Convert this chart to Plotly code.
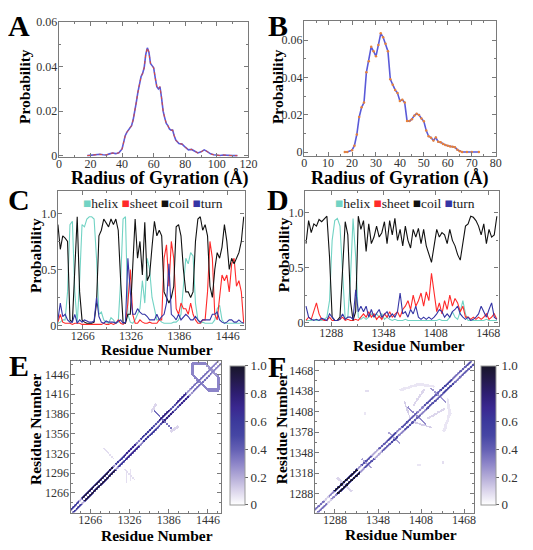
import numpy as np
import plotly.graph_objects as go

# ---------------- A: radius of gyration, protein 1
rg_a_x = [18, 20, 22, 24, 26, 28, 30, 32, 34, 36, 38, 40, 41, 42, 43, 44, 45, 46, 47, 48,
          49, 50, 51, 52, 53, 54, 55, 56, 57, 58, 59, 60, 61, 62, 63, 64, 65, 66, 67, 68,
          69, 70, 71, 72, 73, 74, 76, 78, 80, 82, 84, 86, 88, 90, 92, 94, 96, 98, 100, 102,
          104, 106, 108, 110, 113]
rg_a_p = [0.0, 0.0002, 0.0003, 0.0004, 0.0006, 0.0004, 0.0003, 0.0008, 0.0012, 0.0009,
          0.0013, 0.003, 0.006, 0.009, 0.0105, 0.0115, 0.0125, 0.0135, 0.016, 0.0195,
          0.024, 0.0285, 0.032, 0.0355, 0.037, 0.0395, 0.0455, 0.0485, 0.0465, 0.0415,
          0.0405, 0.0395, 0.035, 0.031, 0.030, 0.031, 0.026, 0.020, 0.017, 0.0145,
          0.0135, 0.012, 0.0115, 0.0115, 0.009, 0.007, 0.0055, 0.0052, 0.0038, 0.0026,
          0.0028, 0.0021, 0.0012, 0.0017, 0.0026, 0.0018, 0.0008, 0.0004, 0.0002, 0.0001,
          0.0003, 0.0001, 0.0, 0.0, 0.0]

# ---------------- B: radius of gyration, protein 2
rg_b_x = [17, 18, 20, 21, 22, 23, 24, 25, 26, 27, 28, 29, 30, 31, 32, 33, 34, 35, 36, 37,
          38, 39, 40, 41, 42, 43, 44, 45, 46, 47, 48, 49, 50, 51, 52, 53, 54, 55, 56, 57,
          58, 59, 60, 61, 62, 63, 64, 65, 66, 68, 70, 73]
rg_b_p = [0.0, 0.0, 0.001, 0.0034, 0.0094, 0.0188, 0.024, 0.0265, 0.0427, 0.0487,
          0.0564, 0.054, 0.0513, 0.0573, 0.0636, 0.0615, 0.058, 0.054, 0.039, 0.036,
          0.0333, 0.0316, 0.0274, 0.028, 0.0265, 0.0166, 0.0166, 0.0176, 0.0195, 0.0205,
          0.0198, 0.018, 0.0165, 0.0115, 0.0085, 0.0077, 0.0062, 0.0078, 0.0055, 0.0052,
          0.0043, 0.0038, 0.0034, 0.003, 0.0029, 0.0026, 0.0012, 0.0005, 0.0, 0.0, 0.0, 0.0]

# ---------------- C: secondary structure, protein 1
ss_c_res = list(range(1235, 1467, 3))
ss_c_helix = [.02, .03, .05, .05, .30, .90, .93, .30, .02, .40, .90, .88, .95, .97, .97, .95,
              .60, .10, .12, .05, .03, .02, .07, .05, .02, .03, .40, .95, .97, .10, .03, .02,
              .05, .10, .15, .40, .20, .60, .50, .25, .15, .05, .05, .03, .02, .02, .02, .02,
              .03, .03, .05, .10, .35, .60, .55, .65, .62, .20, .05, .02, .03, .02, .02, .02,
              .02, .05, .15, .18, .05, .02, .02, .02, .02, .02, .02, .02, .02, .02]
ss_c_sheet = [.03, .10, .03, .02, .02, .02, .01, .02, .02, .02, .01, .01, .01, .01, .01, .01,
              .01, .01, .01, .02, .01, .01, .02, .01, .02, .05, .02, .01, .03, .20, .50, .10,
              .02, .02, .05, .03, .02, .02, .03, .02, .02, .02, .05, .05, .60, .72, .35, .75,
              .60, .15, .10, .20, .15, .15, .10, .20, .10, .05, .02, .02, .05, .05, .30, .75,
              .60, .10, .05, .25, .45, .40, .45, .30, .55, .60, .35, .40, .30, .02]
ss_c_coil = [.90, .68, .80, .78, .75, .05, .03, .50, .97, .30, .05, .03, .02, .02, .02, .03,
             .20, .80, .85, .95, .92, .88, .95, .90, .95, .85, .40, .03, .02, .10, .10, .60,
             .95, .60, .75, .45, .92, .40, .45, .70, .93, .80, .85, .80, .30, .25, .20, .25,
             .35, .88, .90, .80, .50, .30, .30, .25, .30, .75, .95, .97, .85, .90, .80, .35,
             .25, .50, .65, .60, .70, .90, .75, .50, .60, .55, .60, .65, .75, .97]
ss_c_turn = [.05, .20, .08, .10, .05, .03, .03, .10, .02, .05, .03, .05, .04, .03, .03, .04,
             .25, .08, .03, .02, .04, .03, .03, .03, .02, .04, .05, .02, .03, .60, .30, .10,
             .10, .15, .12, .10, .10, .08, .05, .05, .05, .10, .05, .08, .10, .20, .55, .10,
             .08, .05, .10, .05, .08, .10, .08, .05, .05, .08, .05, .03, .05, .05, .05, .05,
             .10, .10, .12, .05, .03, .02, .03, .05, .05, .03, .03, .05, .03, .02]

# ---------------- D: secondary structure, protein 2
ss_d_res = list(range(1259, 1479, 3))
ss_d_helix = [.02, .02, .02, .03, .02, .02, .02, .03, .05, .20, .75, .93, .95, .88, .40, .03,
              .05, .40, .95, .60, .05, .03, .05, .03, .05, .08, .05, .08, .05, .08, .03, .05,
              .03, .02, .03, .02, .02, .02, .03, .02, .02, .02, .02, .02, .02, .02, .02, .02,
              .02, .02, .02, .03, .02, .02, .02, .05, .10, .05, .03, .10, .20, .08, .02, .02,
              .02, .02, .02, .02, .02, .03, .02, .02, .02, .02]
ss_d_sheet = [.02, .05, .03, .10, .18, .08, .03, .02, .02, .05, .02, .02, .02, .03, .05, .02,
              .03, .02, .02, .03, .02, .05, .08, .05, .10, .05, .08, .03, .06, .03, .08, .05,
              .10, .05, .08, .10, .05, .12, .15, .20, .12, .25, .15, .20, .27, .15, .28, .20,
              .45, .25, .10, .18, .08, .20, .12, .25, .15, .22, .18, .10, .15, .05, .05, .03,
              .05, .03, .05, .03, .05, .08, .03, .05, .08, .03]
ss_d_coil = [.72, .93, .82, .90, .88, .94, .92, .95, .97, .60, .05, .02, .02, .05, .45, .92,
             .80, .20, .02, .10, .97, .85, .93, .65, .90, .72, .78, .88, .78, .82, .92, .72,
             .93, .80, .95, .75, .85, .70, .88, .75, .68, .85, .78, .86, .72, .85, .70, .62,
             .55, .70, .85, .78, .82, .80, .72, .85, .75, .70, .62, .57, .75, .88, .90, .97,
             .96, .93, .88, .80, .90, .72, .85, .78, .80, .97]
ss_d_turn = [.15, .05, .03, .02, .03, .02, .04, .03, .02, .08, .05, .02, .02, .03, .08, .03,
             .05, .05, .03, .30, .10, .15, .10, .15, .05, .12, .05, .08, .12, .05, .08, .10,
             .05, .08, .05, .10, .27, .08, .10, .05, .12, .08, .15, .05, .03, .05, .03, .05,
             .03, .05, .08, .12, .10, .05, .08, .05, .10, .12, .15, .08, .05, .03, .05, .02,
             .03, .05, .08, .15, .10, .05, .12, .18, .05, .03]

# ---------------- E: contact map, protein 1 (band at i,i+4 plus off-diagonal strokes)
cm_e_res = np.arange(1236, 1467)
cm_e_diag_start = [1236, 1248, 1254, 1300, 1306, 1318, 1336, 1344, 1362, 1372, 1388, 1398, 1412, 1420, 1446]
cm_e_diag_end = [1248, 1254, 1300, 1306, 1318, 1336, 1344, 1362, 1372, 1388, 1398, 1412, 1420, 1446, 1466]
cm_e_diag_val = [0.55, 0.2, 0.92, 0.25, 0.6, 0.7, 0.3, 0.6, 0.45, 0.75, 0.45, 0.7, 0.25, 0.35, 0.3]
cm_e_seg_x0 = [1364, 1390, 1282, 1284, 1290, 1286, 1422, 1422, 1422, 1442]
cm_e_seg_y0 = [1390, 1360, 1322, 1328, 1316, 1334, 1446, 1446, 1462, 1462]
cm_e_seg_x1 = [1390, 1400, 1300, 1302, 1290, 1302, 1422, 1446, 1442, 1462]
cm_e_seg_y1 = [1364, 1366, 1322, 1328, 1336, 1318, 1462, 1422, 1462, 1442]
cm_e_seg_val = [0.35, 0.1, 0.08, 0.07, 0.07, 0.08, 0.3, 0.3, 0.3, 0.25]
cm_e_seg_w = [1.3, 2.0, 0.8, 0.8, 0.8, 0.8, 2.0, 2.0, 2.0, 2.0]

# ---------------- F: contact map, protein 2
cm_f_res = np.arange(1260, 1483)
cm_f_diag_start = [1260, 1272, 1280, 1288, 1318, 1326, 1338, 1350, 1362, 1372, 1382, 1392, 1402, 1412, 1424, 1436, 1450, 1462, 1472]
cm_f_diag_end = [1272, 1280, 1288, 1318, 1326, 1338, 1350, 1362, 1372, 1382, 1392, 1402, 1412, 1424, 1436, 1450, 1462, 1472, 1482]
cm_f_diag_val = [0.35, 0.12, 0.3, 1.0, 0.25, 0.45, 0.2, 0.4, 0.5, 0.3, 0.45, 0.4, 0.3, 0.45, 0.4, 0.5, 0.35, 0.4, 0.45]
cm_f_seg_x0 = [1292, 1326, 1362, 1390, 1422, 1380, 1405, 1398, 1400, 1332, 1404]
cm_f_seg_y0 = [1310, 1338, 1378, 1414, 1442, 1440, 1448, 1418, 1392, 1438, 1330]
cm_f_seg_x1 = [1306, 1338, 1378, 1414, 1442, 1405, 1425, 1412, 1422, 1334, 1406]
cm_f_seg_y1 = [1296, 1326, 1362, 1390, 1422, 1448, 1445, 1440, 1385, 1438, 1330]
cm_f_seg_val = [0.1, 0.22, 0.22, 0.28, 0.25, 0.06, 0.06, 0.1, 0.12, 0.08, 0.06]
cm_f_seg_w = [2.0, 1.0, 1.0, 1.0, 1.0, 2.0, 2.0, 1.5, 1.2, 1.5, 1.5]

# the page body has an 8 px margin, so the figure is shifted by that amount
OFF = 8
W, H = 533 - OFF, 550 - OFF
SERIF = "Liberation Serif, Times New Roman, serif"
AXC = "#7a7a7a"
helix_c, sheet_c, coil_c, turn_c = "#72d3c4", "#ff2a2a", "#111111", "#3535a5"
cmap = [[0.0, "#ffffff"], [0.1, "#dcd6ec"], [0.2, "#b4acd8"], [0.3, "#8c84c8"],
        [0.4, "#6460b4"], [0.5, "#4646a4"], [0.6, "#3c3a9c"], [0.7, "#3a2890"],
        [0.8, "#2e1e72"], [0.9, "#241a4c"], [1.0, "#18162a"]]


def px(x):
    return (x - OFF) / W


def py(y):
    return 1 - (y - OFF) / H


def contact_map(res, d_start, d_end, d_val, x0s, y0s, x1s, y1s, vals, ws, offset=4):
    X, Y = np.meshgrid(res, res)
    z = np.zeros(X.shape)
    segs = []
    for s, e, v in zip(d_start, d_end, d_val):
        segs.append((s, s + offset, e, e + offset, 0.4 * v, 2.0))   # soft fringe
        segs.append((s, s + offset, e, e + offset, v, 1.0))         # core line
    segs += list(zip(x0s, y0s, x1s, y1s, vals, ws))
    for x0, y0, x1, y1, v, w in segs:
        dx, dy = x1 - x0, y1 - y0
        t = np.clip(((X - x0) * dx + (Y - y0) * dy) / (dx * dx + dy * dy), 0, 1)
        d = np.hypot(X - (x0 + t * dx), Y - (y0 + t * dy))
        z = np.where(d <= w, np.maximum(z, v), z)
    return np.maximum(z, z.T)


def axis(domain, anchor, rng, vals, text, minor_vals, standoff):
    return dict(domain=domain, anchor=anchor, range=rng, tickmode="array", tickvals=vals,
                ticktext=text, showline=True, linecolor=AXC, linewidth=1.3, mirror="allticks",
                ticks="inside", ticklen=4, tickcolor=AXC, showgrid=False, zeroline=False,
                ticklabelstandoff=standoff,
                tickfont=dict(family=SERIF, size=12, color="#333"),
                minor=dict(tickmode="array", tickvals=minor_vals, ticks="inside", ticklen=2,
                           tickcolor=AXC))


def xax(*a):
    return axis(*a, -4)


def yax(*a):
    return axis(*a, -2)


fig = go.Figure()

# A
fig.add_trace(go.Scatter(x=rg_a_x, y=rg_a_p, mode="lines", line=dict(color="#5a5ad8", width=1.6),
                         xaxis="x", yaxis="y", showlegend=False))
fig.add_trace(go.Scatter(x=rg_a_x, y=rg_a_p, mode="lines", line=dict(color="#e04a3a", width=1, dash="dot"),
                         xaxis="x", yaxis="y", showlegend=False))
# B
fig.add_trace(go.Scatter(x=rg_b_x, y=rg_b_p, mode="lines+markers", line=dict(color="#5a5ad8", width=1.6),
                         marker=dict(color="#e8823a", size=2.5), xaxis="x2", yaxis="y2", showlegend=False))

# C and D
for res, hel, sht, coi, trn, xa, ya in [
        (ss_c_res, ss_c_helix, ss_c_sheet, ss_c_coil, ss_c_turn, "x3", "y3"),
        (ss_d_res, ss_d_helix, ss_d_sheet, ss_d_coil, ss_d_turn, "x4", "y4")]:
    for vals, col in [(hel, helix_c), (sht, sheet_c), (coi, coil_c), (trn, turn_c)]:
        fig.add_trace(go.Scatter(x=res, y=vals, mode="lines", line=dict(color=col, width=1.1),
                                 xaxis=xa, yaxis=ya, showlegend=False))

# E and F
z_e = contact_map(cm_e_res, cm_e_diag_start, cm_e_diag_end, cm_e_diag_val, cm_e_seg_x0,
                  cm_e_seg_y0, cm_e_seg_x1, cm_e_seg_y1, cm_e_seg_val, cm_e_seg_w)
z_f = contact_map(cm_f_res, cm_f_diag_start, cm_f_diag_end, cm_f_diag_val, cm_f_seg_x0,
                  cm_f_seg_y0, cm_f_seg_x1, cm_f_seg_y1, cm_f_seg_val, cm_f_seg_w)
cb_ticks = [0, 0.2, 0.4, 0.6, 0.8, 1.0]
cb_text = ["0", "0.2", "0.4", "0.6", "0.8", "1.0"]
for z, res, xa, ya, cbx in [(z_e, cm_e_res, "x5", "y5", 232), (z_f, cm_f_res, "x6", "y6", 489)]:
    fig.add_trace(go.Heatmap(
        x=res, y=res, z=z, zmin=0, zmax=1, colorscale=cmap, xaxis=xa, yaxis=ya,
        colorbar=dict(x=px(cbx), xanchor="left", y=py(510), yanchor="bottom", len=142 / H,
                      lenmode="fraction", thickness=15, outlinecolor="#999", outlinewidth=1,
                      tickmode="array", tickvals=cb_ticks, ticktext=cb_text, ticks="outside",
                      ticklen=3, tickcolor="#666", xpad=0, ypad=0,
                      tickfont=dict(family=SERIF, size=13, color="#333"))))

fig.update_layout(
    xaxis=xax([px(57), px(251)], "y", [0, 120], [0, 20, 40, 60, 80, 100, 120],
              ["0", "20", "40", "60", "80", "100", "120"], [10, 30, 50, 70, 90, 110]),
    yaxis=yax([py(154), py(16)], "x", [-0.0005, 0.0602], [0, 0.02, 0.04, 0.06],
              ["0", "0.02", "0.04", "0.06"], [0.01, 0.03, 0.05]),
    xaxis2=xax([px(308), px(504)], "y2", [0, 80], [0, 10, 20, 30, 40, 50, 60, 70, 80],
               ["0", "10", "20", "30", "40", "50", "60", "70", "80"], [5, 15, 25, 35, 45, 55, 65, 75]),
    yaxis2=yax([py(153), py(15)], "x2", [-0.002, 0.0703], [0, 0.02, 0.04, 0.06],
               ["0", "0.02", "0.04", "0.06"], [0.01, 0.03, 0.05]),
    xaxis3=xax([px(56), px(247)], "y3", [1235, 1467], [1266, 1326, 1386, 1446],
               ["1266", "1326", "1386", "1446"], [1236, 1296, 1356, 1416]),
    yaxis3=yax([py(330), py(189)], "x3", [-0.03, 1.2], [0, 0.5, 1.0], ["0", "0.5", "1.0"],
               [0.25, 0.75]),
    xaxis4=xax([px(309), px(507)], "y4", [1258, 1480], [1288, 1348, 1408, 1468],
               ["1288", "1348", "1408", "1468"], [1258, 1318, 1378, 1438]),
    yaxis4=yax([py(327), py(189)], "x4", [-0.03, 1.2], [0, 0.5, 1.0], ["0", "0.5", "1.0"],
               [0.25, 0.75]),
    xaxis5=xax([px(69), px(223)], "y5", [1236, 1466], [1266, 1326, 1386, 1446],
               ["1266", "1326", "1386", "1446"],
               [1236, 1251, 1281, 1296, 1311, 1341, 1356, 1371, 1401, 1416, 1431, 1461]),
    yaxis5=yax([py(518), py(363)], "x5", [1236, 1466], [1266, 1296, 1326, 1356, 1386, 1416, 1446],
               ["1266", "1296", "1326", "1356", "1386", "1416", "1446"],
               [1251, 1281, 1311, 1341, 1371, 1401, 1431, 1461]),
    xaxis6=xax([px(319), px(482)], "y6", [1260, 1482], [1288, 1348, 1408, 1468],
               ["1288", "1348", "1408", "1468"],
               [1273, 1303, 1318, 1333, 1363, 1378, 1393, 1423, 1438, 1453]),
    yaxis6=yax([py(518), py(363)], "x6", [1260, 1482], [1288, 1318, 1348, 1378, 1408, 1438, 1468],
               ["1288", "1318", "1348", "1378", "1408", "1438", "1468"],
               [1273, 1303, 1333, 1363, 1393, 1423, 1453]),
    width=W, height=H, margin=dict(l=0, r=0, t=0, b=0),
    paper_bgcolor="white", plot_bgcolor="white",
)

ann = []
for txt, x, y, ang, size in [
        ("Radius of Gyration (Å)", 160, 176, 0, 18), ("Radius of Gyration (Å)", 406, 176, 0, 18),
        ("Residue Number", 157, 351, 0, 15.5), ("Residue Number", 415, 347, 0, 15.5),
        ("Residue Number", 157, 541, 0, 15.5), ("Residue Number", 407, 540, 0, 15.5),
        ("Probability", 22, 82, -90, 15.5), ("Probability", 281, 82, -90, 15.5),
        ("Probability", 33, 255, -90, 15.5), ("Probability", 287, 254, -90, 15.5),
        ("Residue Number", 33, 432, -90, 15.5), ("Residue Number", 285, 432, -90, 15.5)]:
    ann.append(dict(text="<b>%s</b>" % txt, x=px(x), y=py(y), xref="paper", yref="paper",
                    showarrow=False, textangle=ang, xanchor="center", yanchor="middle",
                    font=dict(family=SERIF, size=size, color="black")))
for txt, x, y in [("A", 16, 20), ("B", 281, 20), ("C", 16, 198), ("D", 281, 198),
                  ("E", 16, 367), ("F", 280, 368)]:
    ann.append(dict(text="<b>%s</b>" % txt, x=px(x), y=py(y), xref="paper", yref="paper",
                    showarrow=False, font=dict(family=SERIF, size=30, color="black"),
                    xanchor="center", yanchor="middle"))
leg = ("<span style='color:%s'>■</span>helix <span style='color:%s'>■</span>sheet "
       "<span style='color:%s'>■</span>coil <span style='color:%s'>■</span>turn"
       % (helix_c, sheet_c, coil_c, turn_c))
for x in [153, 411]:
    ann.append(dict(text=leg, x=px(x), y=py(202), xref="paper", yref="paper", showarrow=False,
                    font=dict(family=SERIF, size=13.5, color="#222"), xanchor="center", yanchor="middle"))
fig.update_layout(annotations=ann)

fig.write_html("out.html")
